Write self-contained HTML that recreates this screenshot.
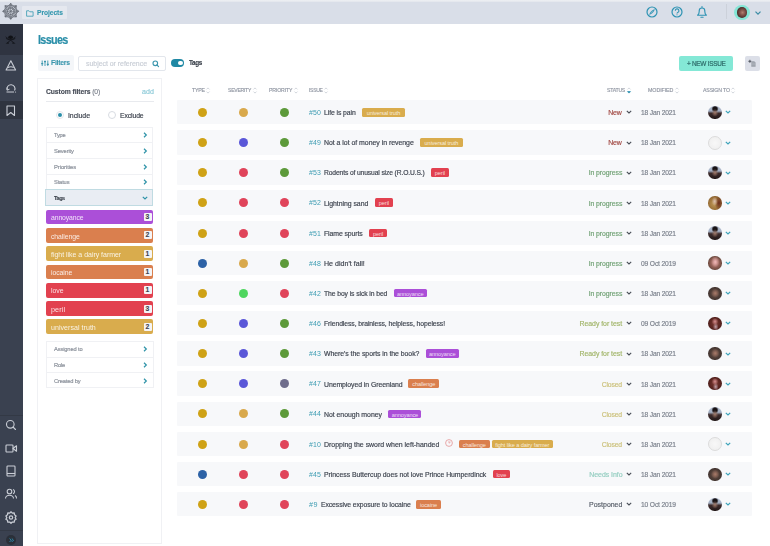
<!DOCTYPE html><html><head><meta charset="utf-8"><style>
*{margin:0;padding:0;box-sizing:border-box}
html,body{width:770px;height:546px;overflow:hidden;background:#fff;font-family:"Liberation Sans",sans-serif;}
.a{position:absolute}
.t{position:absolute;white-space:nowrap;line-height:1}
svg{position:absolute;overflow:visible}
.t{-webkit-text-stroke:0.18px currentColor}
.b{-webkit-text-stroke:0.12px currentColor}
body>div.wrap{position:absolute;left:0;top:0;width:770px;height:546px}
</style></head><body><div class="wrap">
<div class="a" style="left:0;top:0;width:770px;height:23.6px;background:#d9dee8"></div>
<div class="a" style="left:0;top:0;width:770px;height:1.6px;background:linear-gradient(#eef0f3,#e2e5ec)"></div>
<svg class="a" style="left:0px;top:0.7px" width="21" height="22" viewBox="0 0 21 22" ><path d="M10.70 2.40 L18.60 10.30 M16.29 4.71 L16.29 15.89 M18.60 10.30 L10.70 18.20 M16.29 15.89 L5.11 15.89 M10.70 18.20 L2.80 10.30 M5.11 15.89 L5.11 4.71 M2.80 10.30 L10.70 2.40 M5.11 4.71 L16.29 4.71 M10.70 2.40 L16.29 15.89 M16.29 4.71 L10.70 18.20 M18.60 10.30 L5.11 15.89 M16.29 15.89 L2.80 10.30 M10.70 18.20 L5.11 4.71 M5.11 15.89 L10.70 2.40 M2.80 10.30 L16.29 4.71 M5.11 4.71 L18.60 10.30 M10.70 2.40 L10.70 18.20 M16.29 4.71 L5.11 15.89 M18.60 10.30 L2.80 10.30 M16.29 15.89 L5.11 4.71 " fill="none" stroke="#666b75" stroke-width="0.7"/></svg>
<div class="a" style="left:22px;top:6px;width:45px;height:13px;background:#e5e8ef;border-radius:1px"></div>
<svg class="a" style="left:26px;top:9.5px" width="8" height="7" viewBox="0 0 8 7" ><path d="M0.6 0.8 h2.4 l0.9 1 h3.2 v4.4 h-6.5 z" fill="none" stroke="#4aa3b8" stroke-width="0.9"/></svg>
<div class="t b" style="left:37px;top:9.84px;font-size:6.8px;color:#3597ae;font-weight:700;transform:scaleX(0.9844);transform-origin:left center;letter-spacing:-0.060px;">Projects</div>
<svg class="a" style="left:646px;top:6px" width="12" height="12" viewBox="0 0 12 12" ><circle cx="6" cy="6" r="5" fill="none" stroke="#2e93b3" stroke-width="1.2"/><path d="M8.3 3.7 L6.6 6.6 L3.7 8.3 L5.4 5.4 Z" fill="#2e93b3" fill-opacity="0.35" stroke="#2e93b3" stroke-width="0.9"/></svg>
<svg class="a" style="left:671px;top:6px" width="12" height="12" viewBox="0 0 12 12" ><circle cx="6" cy="6" r="5" fill="none" stroke="#2e93b3" stroke-width="1.2"/><path d="M4.3 4.7 a1.8 1.8 0 1 1 2.4 1.7 q-0.7 0.3 -0.7 1.1" fill="none" stroke="#2e93b3" stroke-width="1.1"/><circle cx="6" cy="8.8" r="0.55" fill="#2e93b3"/></svg>
<svg class="a" style="left:696px;top:5px" width="12" height="14" viewBox="0 0 12 14" ><path d="M1.6 10.2 Q3.2 9 3.2 6.5 V5.8 A2.8 2.8 0 0 1 8.8 5.8 V6.5 Q8.8 9 10.4 10.2 Z M6 1.6 V3 M4.9 12.2 H7.1" fill="none" stroke="#2e93b3" stroke-width="1.15" stroke-linecap="round" stroke-linejoin="round"/></svg>
<div class="a" style="left:726px;top:4px;width:1px;height:15px;background:#ccd1da"></div>
<div class="a" style="left:734.2px;top:4.6px;width:15.8px;height:15.8px;border-radius:50%;background:#84e6d6;filter:blur(0.4px)"></div>
<div class="a" style="left:736.7px;top:7.1px;width:10.8px;height:10.8px;border-radius:50%;background:radial-gradient(circle at 55% 50%,#b08070 0,#80524a 35%,#4a2e2a 70%,#2a1c1a 100%)"></div>
<svg class="a" style="left:755.3px;top:11.2px" width="6" height="4" viewBox="0 0 6 4" ><path d="M0.5 0.6 L3 3.2 L5.5 0.6" fill="none" stroke="#3a8ca4" stroke-width="1.2"/></svg>
<div class="a" style="left:0;top:23.6px;width:22.5px;height:523px;background:#3a4150"></div>
<div class="a" style="left:0;top:23.6px;width:22.5px;height:31.5px;background:#2f3441"></div>
<div class="a" style="left:0;top:101px;width:22.5px;height:18px;background:#2f343f"></div>
<div class="a" style="left:0;top:415px;width:22.5px;height:1px;background:#333945"></div>
<div class="a" style="left:0;top:530px;width:22.5px;height:1px;background:#333945"></div>
<svg class="a" style="left:2px;top:30px" width="18" height="20" viewBox="0 0 18 20" ><ellipse cx="8.6" cy="7.3" rx="2.4" ry="1.8" fill="#101216"/><path d="M4.2 8.4 Q8.6 11.4 13.2 8.4" fill="none" stroke="#14171c" stroke-width="1.1"/><path d="M3.6 6.8 L12.3 13 M13.6 6.8 L4.9 13" stroke="#171a20" stroke-width="0.9"/><path d="M3.6 13.6 L6.6 11.8 L6.8 14 Z M13.6 13.6 L10.6 11.8 L10.4 14 Z" fill="#171a20"/></svg>
<svg class="a" style="left:5px;top:59px" width="12" height="12" viewBox="0 0 12 12" ><path d="M5.85 1.8 L10.6 11 H1.1 Z" fill="none" stroke="#c9cdd5" stroke-width="1.1" stroke-linejoin="round"/><path d="M3 8.4 Q5.85 7 8.7 8.4" fill="none" stroke="#c9cdd5" stroke-width="1.1"/></svg>
<svg class="a" style="left:5px;top:81.5px" width="12" height="12" viewBox="0 0 12 12" ><path d="M2.2 8 A4 4 0 1 1 9.5 8.6" fill="none" stroke="#c9cdd5" stroke-width="1.1"/><path d="M2 5.5 L2.2 8.2 L4.5 7.2" fill="none" stroke="#c9cdd5" stroke-width="1"/><path d="M1.5 10 H9" stroke="#c9cdd5" stroke-width="1"/><circle cx="10.5" cy="10" r="0.6" fill="#c9cdd5"/></svg>
<svg class="a" style="left:6px;top:105px" width="10" height="12" viewBox="0 0 10 12" ><path d="M1 1 H8.5 V10.5 L4.75 7.5 L1 10.5 Z" fill="none" stroke="#c9cdd5" stroke-width="1.1" stroke-linejoin="round"/></svg>
<svg class="a" style="left:5px;top:419px" width="12" height="12" viewBox="0 0 12 12" ><circle cx="5.3" cy="5.3" r="3.8" fill="none" stroke="#c9cdd5" stroke-width="1.1"/><path d="M8 8 L10.5 10.5" stroke="#c9cdd5" stroke-width="1.1" stroke-linecap="round"/></svg>
<svg class="a" style="left:5px;top:443px" width="13" height="11" viewBox="0 0 13 11" ><rect x="1" y="2" width="7" height="7" rx="0.8" fill="none" stroke="#c9cdd5" stroke-width="1.1"/><path d="M8 5.5 L11.5 2.8 V8.2 Z" fill="none" stroke="#c9cdd5" stroke-width="1.1" stroke-linejoin="round"/></svg>
<svg class="a" style="left:6px;top:465px" width="10" height="12" viewBox="0 0 10 12" ><rect x="1" y="1" width="8" height="10" rx="0.8" fill="none" stroke="#c9cdd5" stroke-width="1.1"/><path d="M1 8.5 H9" stroke="#c9cdd5" stroke-width="1.1"/></svg>
<svg class="a" style="left:4px;top:488px" width="14" height="12" viewBox="0 0 14 12" ><circle cx="5.5" cy="3.5" r="2.3" fill="none" stroke="#c9cdd5" stroke-width="1.1"/><path d="M1.5 10.5 a4 3.2 0 0 1 8 0" fill="none" stroke="#c9cdd5" stroke-width="1.1"/><path d="M9 1.5 a2.2 2.2 0 0 1 0 4.2 M11 7.5 a3 3 0 0 1 1.5 3" fill="none" stroke="#c9cdd5" stroke-width="1.1"/></svg>
<svg class="a" style="left:5px;top:510.5px" width="12" height="13" viewBox="0 0 12 13" ><path d="M6 0.8 L7.3 2.1 L9.2 1.9 L9.5 3.8 L11.1 4.9 L10.2 6.6 L11.1 8.2 L9.5 9.3 L9.2 11.2 L7.3 11 L6 12.3 L4.7 11 L2.8 11.2 L2.5 9.3 L0.9 8.2 L1.8 6.6 L0.9 4.9 L2.5 3.8 L2.8 1.9 L4.7 2.1 Z" fill="none" stroke="#c9cdd5" stroke-width="1.25" stroke-linejoin="round"/><circle cx="6" cy="6.5" r="1.7" fill="none" stroke="#c9cdd5" stroke-width="1.2"/></svg>
<div class="a" style="left:6px;top:535.3px;width:10px;height:10px;border-radius:50%;background:#2b3039"></div>
<svg class="a" style="left:8.6px;top:538.3px" width="6" height="5" viewBox="0 0 6 5" ><path d="M0.6 0.5 L2.3 2.2 L0.6 3.9 M2.8 0.5 L4.5 2.2 L2.8 3.9" fill="none" stroke="#2a8db0" stroke-width="1"/></svg>
<div class="t b" style="left:38px;top:33.74px;font-size:12px;color:#2b8fa9;font-weight:700;transform:scaleX(0.9006);transform-origin:left center;letter-spacing:-0.743px;-webkit-text-stroke:0.2px currentColor">Issues</div>
<div class="a" style="left:38px;top:55px;width:36px;height:16px;background:#f4f6f9;border-radius:2px"></div>
<svg class="a" style="left:41px;top:59.5px" width="8" height="6.5" viewBox="0 0 8 6.5" ><path d="M1.2 0.5 V6 M4 0.5 V6 M6.8 0.5 V6" stroke="#3b96ad" stroke-width="0.9"/><path d="M0.2 3.6 H2.2 M3 1.6 H5 M5.8 4.4 H7.8" stroke="#3b96ad" stroke-width="1.1"/></svg>
<div class="t b" style="left:50.8px;top:59.05px;font-size:7.5px;color:#3b96ad;font-weight:700;transform:scaleX(0.9186);transform-origin:left center;letter-spacing:-0.305px;">Filters</div>
<div class="a" style="left:78px;top:55.5px;width:87.5px;height:15px;border:1px solid #e2e6ec;border-radius:2px;background:#fff"></div>
<div class="t" style="left:86px;top:59.57px;font-size:7px;color:#c9ced6;font-weight:400;transform:scaleX(0.9929);transform-origin:left center;letter-spacing:-0.023px;">subject or reference</div>
<svg class="a" style="left:151.5px;top:59.5px" width="8" height="8" viewBox="0 0 8 8" ><circle cx="3.3" cy="3.3" r="2.3" fill="none" stroke="#3b96ad" stroke-width="1.1"/><path d="M5 5 L6.6 6.6" stroke="#3b96ad" stroke-width="1.1" stroke-linecap="round"/></svg>
<div class="a" style="left:170.6px;top:59.3px;width:13.8px;height:7.4px;border-radius:4px;background:#1f88a4"></div>
<div class="a" style="left:177.9px;top:60.7px;width:4.8px;height:4.8px;border-radius:50%;background:#fff"></div>
<div class="t b" style="left:189.2px;top:60.34px;font-size:6.8px;color:#333a44;font-weight:700;transform:scaleX(0.9305);transform-origin:left center;letter-spacing:-0.356px;">Tags</div>
<div class="a" style="left:679px;top:55.5px;width:54px;height:15px;background:#84e8d6;border-radius:2px"></div>
<div class="t" style="left:686.6px;top:61.36px;font-size:6.9px;color:#2f6d6b;font-weight:400;transform:scaleX(0.9326);transform-origin:left center;letter-spacing:-0.301px;-webkit-text-stroke:0.22px currentColor">+ NEW ISSUE</div>
<div class="a" style="left:744.7px;top:55.5px;width:15px;height:15px;background:#dcdfe8;border-radius:2px"></div>
<svg class="a" style="left:747px;top:58px" width="10" height="10" viewBox="0 0 10 10" ><path d="M1.4 3.3 H4.4 M2.9 1.8 V4.8" stroke="#50565f" stroke-width="1"/><path d="M4.3 3.2 H7.2 L8.6 4.6 V8.7 H4.3 Z" fill="#9a9fa8"/><path d="M4.3 5.2 H8.6 M4.3 6.8 H8.6" stroke="#c5c9d2" stroke-width="0.45"/></svg>
<div class="a" style="left:37.3px;top:78.4px;width:124.5px;height:466px;border:1px solid #f0f1f4;background:#fff"></div>
<div class="t b" style="left:46px;top:87.57px;font-size:7px;color:#444a55;font-weight:700;transform:scaleX(0.9711);transform-origin:left center;letter-spacing:-0.098px;">Custom filters <span style="font-weight:400;color:#777d88">(0)</span></div>
<div class="t" style="left:141.8px;top:87.57px;font-size:7px;color:#8fcbd9;font-weight:400;transform:scaleX(1.0133);transform-origin:left center;letter-spacing:0.078px;">add</div>
<div class="a" style="left:46px;top:100.5px;width:107.6px;height:1px;background:#e8eaee"></div>
<div class="a" style="left:56px;top:111.2px;width:8px;height:8px;border-radius:50%;border:1px solid #e3e6ea;background:#fff"></div>
<div class="a" style="left:58px;top:113.2px;width:4px;height:4px;border-radius:50%;background:#2b8fa9"></div>
<div class="t" style="left:67.8px;top:112.07px;font-size:7px;color:#3d434e;font-weight:400;transform:scaleX(0.9871);transform-origin:left center;letter-spacing:-0.048px;">Include</div>
<div class="a" style="left:107.8px;top:111.2px;width:8px;height:8px;border-radius:50%;border:1px solid #d8dce2;background:#fff"></div>
<div class="t" style="left:119.6px;top:112.07px;font-size:7px;color:#3d434e;font-weight:400;transform:scaleX(0.9734);transform-origin:left center;letter-spacing:-0.110px;">Exclude</div>
<div class="a" style="left:45.8px;top:127.3px;width:107.5px;height:62.5px;border:1px solid #f0f1f4"></div>
<div class="t" style="left:54px;top:132.07px;font-size:6.0px;color:#8a909a;font-weight:400;transform:scaleX(0.9481);transform-origin:left center;letter-spacing:-0.225px;">Type</div>
<svg class="a" style="left:143.4px;top:131.95px" width="5" height="6" viewBox="0 0 5 6" ><path d="M1 0.8 L3.3 3 L1 5.2" fill="none" stroke="#2e93a8" stroke-width="1.2"/></svg>
<div class="a" style="left:45.8px;top:142.1px;width:107.5px;height:1px;background:#f0f1f4"></div>
<div class="t" style="left:54px;top:147.72px;font-size:6.0px;color:#8a909a;font-weight:400;transform:scaleX(0.9603);transform-origin:left center;letter-spacing:-0.123px;">Severity</div>
<svg class="a" style="left:143.4px;top:147.6px" width="5" height="6" viewBox="0 0 5 6" ><path d="M1 0.8 L3.3 3 L1 5.2" fill="none" stroke="#2e93a8" stroke-width="1.2"/></svg>
<div class="a" style="left:45.8px;top:158.1px;width:107.5px;height:1px;background:#f0f1f4"></div>
<div class="t" style="left:54px;top:163.62px;font-size:6.0px;color:#8a909a;font-weight:400;transform:scaleX(0.9730);transform-origin:left center;letter-spacing:-0.070px;">Priorities</div>
<svg class="a" style="left:143.4px;top:163.5px" width="5" height="6" viewBox="0 0 5 6" ><path d="M1 0.8 L3.3 3 L1 5.2" fill="none" stroke="#2e93a8" stroke-width="1.2"/></svg>
<div class="a" style="left:45.8px;top:173.9px;width:107.5px;height:1px;background:#f0f1f4"></div>
<div class="t" style="left:54px;top:179.07px;font-size:6.0px;color:#8a909a;font-weight:400;transform:scaleX(0.9544);transform-origin:left center;letter-spacing:-0.155px;">Status</div>
<svg class="a" style="left:143.4px;top:178.95px" width="5" height="6" viewBox="0 0 5 6" ><path d="M1 0.8 L3.3 3 L1 5.2" fill="none" stroke="#2e93a8" stroke-width="1.2"/></svg>
<div class="a" style="left:45.1px;top:189.3px;width:108.4px;height:16.8px;background:#e9edf3;border:1px solid #c0dbe2"></div>
<div class="t b" style="left:54px;top:195.05px;font-size:6.2px;color:#3a404a;font-weight:700;transform:scaleX(0.8949);transform-origin:left center;letter-spacing:-0.490px;">Tags</div>
<svg class="a" style="left:142.2px;top:195.9px" width="6" height="4" viewBox="0 0 6 4" ><path d="M0.8 0.8 L3 3 L5.2 0.8" fill="none" stroke="#2e93a8" stroke-width="1.2"/></svg>
<div class="a" style="left:45.9px;top:209.60px;width:107.5px;height:14.9px;background:#ab4fd8;border-radius:2px"></div>
<div class="t" style="left:51.2px;top:214.27px;font-size:7px;color:rgba(255,255,255,.85);font-weight:400;transform:scaleX(0.9754);transform-origin:left center;letter-spacing:-0.105px;-webkit-text-stroke:0">annoyance</div>
<div class="a" style="left:143.8px;top:213.10px;width:8px;height:8px;background:#f4f4f6;border-radius:1px"></div>
<div class="t b" style="left:145.6px;top:214.14px;font-size:6.8px;color:#3e4450;font-weight:700;letter-spacing:0px;">3</div>
<div class="a" style="left:45.9px;top:227.90px;width:107.5px;height:14.9px;background:#da7f4e;border-radius:2px"></div>
<div class="t" style="left:51.2px;top:232.57px;font-size:7px;color:rgba(255,255,255,.85);font-weight:400;transform:scaleX(0.9786);transform-origin:left center;letter-spacing:-0.080px;-webkit-text-stroke:0">challenge</div>
<div class="a" style="left:143.8px;top:231.40px;width:8px;height:8px;background:#f4f4f6;border-radius:1px"></div>
<div class="t b" style="left:145.6px;top:232.44px;font-size:6.8px;color:#3e4450;font-weight:700;letter-spacing:0px;">2</div>
<div class="a" style="left:45.9px;top:246.20px;width:107.5px;height:14.9px;background:#d9ac4d;border-radius:2px"></div>
<div class="t" style="left:51.2px;top:250.87px;font-size:7px;color:rgba(255,255,255,.85);font-weight:400;transform:scaleX(0.9957);transform-origin:left center;letter-spacing:-0.013px;-webkit-text-stroke:0">fight like a dairy farmer</div>
<div class="a" style="left:143.8px;top:249.70px;width:8px;height:8px;background:#f4f4f6;border-radius:1px"></div>
<div class="t b" style="left:145.6px;top:250.74px;font-size:6.8px;color:#3e4450;font-weight:700;letter-spacing:0px;">1</div>
<div class="a" style="left:45.9px;top:264.50px;width:107.5px;height:14.9px;background:#da7f4e;border-radius:2px"></div>
<div class="t" style="left:51.2px;top:269.17px;font-size:7px;color:rgba(255,255,255,.85);font-weight:400;transform:scaleX(0.9798);transform-origin:left center;letter-spacing:-0.075px;-webkit-text-stroke:0">iocaine</div>
<div class="a" style="left:143.8px;top:268.00px;width:8px;height:8px;background:#f4f4f6;border-radius:1px"></div>
<div class="t b" style="left:145.6px;top:269.04px;font-size:6.8px;color:#3e4450;font-weight:700;letter-spacing:0px;">1</div>
<div class="a" style="left:45.9px;top:282.80px;width:107.5px;height:14.9px;background:#e2414f;border-radius:2px"></div>
<div class="t" style="left:51.2px;top:287.47px;font-size:7px;color:rgba(255,255,255,.85);font-weight:400;transform:scaleX(0.9865);transform-origin:left center;letter-spacing:-0.058px;-webkit-text-stroke:0">love</div>
<div class="a" style="left:143.8px;top:286.30px;width:8px;height:8px;background:#f4f4f6;border-radius:1px"></div>
<div class="t b" style="left:145.6px;top:287.34px;font-size:6.8px;color:#3e4450;font-weight:700;letter-spacing:0px;">1</div>
<div class="a" style="left:45.9px;top:301.10px;width:107.5px;height:14.9px;background:#e2414f;border-radius:2px"></div>
<div class="t" style="left:51.2px;top:305.77px;font-size:7px;color:rgba(255,255,255,.85);font-weight:400;transform:scaleX(1.0285);transform-origin:left center;letter-spacing:0.094px;-webkit-text-stroke:0">peril</div>
<div class="a" style="left:143.8px;top:304.60px;width:8px;height:8px;background:#f4f4f6;border-radius:1px"></div>
<div class="t b" style="left:145.6px;top:305.64px;font-size:6.8px;color:#3e4450;font-weight:700;letter-spacing:0px;">3</div>
<div class="a" style="left:45.9px;top:319.40px;width:107.5px;height:14.9px;background:#d9ac4d;border-radius:2px"></div>
<div class="t" style="left:51.2px;top:324.07px;font-size:7px;color:rgba(255,255,255,.85);font-weight:400;transform:scaleX(1.0094);transform-origin:left center;letter-spacing:0.030px;-webkit-text-stroke:0">universal truth</div>
<div class="a" style="left:143.8px;top:322.90px;width:8px;height:8px;background:#f4f4f6;border-radius:1px"></div>
<div class="t b" style="left:145.6px;top:323.94px;font-size:6.8px;color:#3e4450;font-weight:700;letter-spacing:0px;">2</div>
<div class="a" style="left:45.6px;top:341.3px;width:108.2px;height:47.2px;border:1px solid #f0f1f4"></div>
<div class="t" style="left:54px;top:346.32px;font-size:6.0px;color:#8a909a;font-weight:400;transform:scaleX(0.9550);transform-origin:left center;letter-spacing:-0.141px;">Assigned to</div>
<svg class="a" style="left:143.4px;top:346.2px" width="5" height="6" viewBox="0 0 5 6" ><path d="M1 0.8 L3.3 3 L1 5.2" fill="none" stroke="#2e93a8" stroke-width="1.2"/></svg>
<div class="a" style="left:45.6px;top:356.53px;width:108.2px;height:1px;background:#f0f1f4"></div>
<div class="t" style="left:54px;top:362.05px;font-size:6.0px;color:#8a909a;font-weight:400;transform:scaleX(0.9483);transform-origin:left center;letter-spacing:-0.213px;">Role</div>
<svg class="a" style="left:143.4px;top:361.93px" width="5" height="6" viewBox="0 0 5 6" ><path d="M1 0.8 L3.3 3 L1 5.2" fill="none" stroke="#2e93a8" stroke-width="1.2"/></svg>
<div class="a" style="left:45.6px;top:372.26px;width:108.2px;height:1px;background:#f0f1f4"></div>
<div class="t" style="left:54px;top:377.78px;font-size:6.0px;color:#8a909a;font-weight:400;transform:scaleX(0.9536);transform-origin:left center;letter-spacing:-0.151px;">Created by</div>
<svg class="a" style="left:143.4px;top:377.65999999999997px" width="5" height="6" viewBox="0 0 5 6" ><path d="M1 0.8 L3.3 3 L1 5.2" fill="none" stroke="#2e93a8" stroke-width="1.2"/></svg>
<div class="t" style="left:192px;top:87.54px;font-size:5.5px;color:#8e94a0;font-weight:400;transform:scaleX(0.9546);transform-origin:left center;letter-spacing:-0.217px;-webkit-text-stroke:0.14px currentColor">TYPE</div>
<svg class="a" style="left:206.4px;top:86.9px" width="4" height="7" viewBox="0 0 4 7" ><path d="M0.5 2.4 L2 0.9 L3.5 2.4" fill="none" stroke="#c3c8d0" stroke-width="0.75"/><path d="M0.5 4.6 L2 6.1 L3.5 4.6" fill="none" stroke="#c3c8d0" stroke-width="0.75"/></svg>
<div class="t" style="left:227.6px;top:87.54px;font-size:5.5px;color:#8e94a0;font-weight:400;transform:scaleX(0.9255);transform-origin:left center;letter-spacing:-0.290px;-webkit-text-stroke:0.14px currentColor">SEVERITY</div>
<svg class="a" style="left:252.8px;top:86.9px" width="4" height="7" viewBox="0 0 4 7" ><path d="M0.5 2.4 L2 0.9 L3.5 2.4" fill="none" stroke="#c3c8d0" stroke-width="0.75"/><path d="M0.5 4.6 L2 6.1 L3.5 4.6" fill="none" stroke="#c3c8d0" stroke-width="0.75"/></svg>
<div class="t" style="left:268.7px;top:87.54px;font-size:5.5px;color:#8e94a0;font-weight:400;transform:scaleX(0.9490);transform-origin:left center;letter-spacing:-0.189px;-webkit-text-stroke:0.14px currentColor">PRIORITY</div>
<svg class="a" style="left:293.7px;top:86.9px" width="4" height="7" viewBox="0 0 4 7" ><path d="M0.5 2.4 L2 0.9 L3.5 2.4" fill="none" stroke="#c3c8d0" stroke-width="0.75"/><path d="M0.5 4.6 L2 6.1 L3.5 4.6" fill="none" stroke="#c3c8d0" stroke-width="0.75"/></svg>
<div class="t" style="left:308.6px;top:87.54px;font-size:5.5px;color:#8e94a0;font-weight:400;transform:scaleX(0.9174);transform-origin:left center;letter-spacing:-0.341px;-webkit-text-stroke:0.14px currentColor">ISSUE</div>
<svg class="a" style="left:324px;top:86.9px" width="4" height="7" viewBox="0 0 4 7" ><path d="M0.5 2.4 L2 0.9 L3.5 2.4" fill="none" stroke="#c3c8d0" stroke-width="0.75"/><path d="M0.5 4.6 L2 6.1 L3.5 4.6" fill="none" stroke="#c3c8d0" stroke-width="0.75"/></svg>
<div class="t" style="left:607px;top:87.54px;font-size:5.5px;color:#8e94a0;font-weight:400;transform:scaleX(0.9359);transform-origin:left center;letter-spacing:-0.268px;-webkit-text-stroke:0.14px currentColor">STATUS</div>
<svg class="a" style="left:627px;top:86.9px" width="4" height="7" viewBox="0 0 4 7" ><path d="M0.5 2.4 L2 0.9 L3.5 2.4" fill="none" stroke="#c3c8d0" stroke-width="0.75"/><path d="M0.5 4.6 L2 6.1 L3.5 4.6 Z" fill="#2a8fb0" stroke="#2a8fb0" stroke-width="0.75"/></svg>
<div class="t" style="left:648px;top:87.54px;font-size:5.5px;color:#8e94a0;font-weight:400;transform:scaleX(0.9719);transform-origin:left center;letter-spacing:-0.108px;-webkit-text-stroke:0.14px currentColor">MODIFIED</div>
<svg class="a" style="left:675px;top:86.9px" width="4" height="7" viewBox="0 0 4 7" ><path d="M0.5 2.4 L2 0.9 L3.5 2.4" fill="none" stroke="#c3c8d0" stroke-width="0.75"/><path d="M0.5 4.6 L2 6.1 L3.5 4.6" fill="none" stroke="#c3c8d0" stroke-width="0.75"/></svg>
<div class="t" style="left:702.5px;top:87.54px;font-size:5.5px;color:#8e94a0;font-weight:400;transform:scaleX(0.9524);transform-origin:left center;letter-spacing:-0.177px;-webkit-text-stroke:0.14px currentColor">ASSIGN TO</div>
<svg class="a" style="left:731px;top:86.9px" width="4" height="7" viewBox="0 0 4 7" ><path d="M0.5 2.4 L2 0.9 L3.5 2.4" fill="none" stroke="#c3c8d0" stroke-width="0.75"/><path d="M0.5 4.6 L2 6.1 L3.5 4.6" fill="none" stroke="#c3c8d0" stroke-width="0.75"/></svg>
<div class="a" style="left:176.7px;top:100.00px;width:575px;height:24.4px;background:#f7f8fa;border-radius:1px"></div>
<div class="a" style="left:197.80px;top:107.90px;width:9px;height:9px;border-radius:50%;background:#cfa216"></div>
<div class="a" style="left:238.80px;top:107.90px;width:9px;height:9px;border-radius:50%;background:#d9a94c"></div>
<div class="a" style="left:279.80px;top:107.90px;width:9px;height:9px;border-radius:50%;background:#5d9a3a"></div>
<div class="t" style="left:308.6px;top:109.94px;font-size:6.8px;color:#3f9db3;font-weight:400;transform:scaleX(1.0242);transform-origin:left center;letter-spacing:0.137px;-webkit-text-stroke:0px">#50</div>
<div class="t" style="left:324.4px;top:109.17px;font-size:7px;color:#3f4550;font-weight:400;transform:scaleX(0.9748);transform-origin:left center;letter-spacing:-0.077px;">Life is pain</div>
<div class="t" style="left:641.2px;top:109.17px;font-size:7px;color:#7c828d;font-weight:400;transform:scaleX(0.9529);transform-origin:left center;letter-spacing:-0.182px;">18 Jan 2021</div>
<div class="t" style="right:147.79999999999995px;top:109.17px;font-size:7px;color:#a24a44;font-weight:400;transform:scaleX(0.9887);transform-origin:right center;letter-spacing:-0.079px;">New</div>
<svg class="a" style="left:626px;top:110.4px" width="6" height="4" viewBox="0 0 6 4" ><path d="M0.8 0.8 L3 3 L5.2 0.8" fill="none" stroke="#4a4f58" stroke-width="1.1"/></svg>
<div class="a" style="left:708.3px;top:105.70px;width:13.4px;height:13.4px;border-radius:50%;background:radial-gradient(ellipse 24% 30% at 50% 52%,#a07a6a 0,rgba(160,120,100,0) 100%),radial-gradient(ellipse 26% 26% at 50% 22%,#181214 0,#181214 55%,rgba(24,18,20,0) 100%),linear-gradient(180deg,#b8c2d4 0%,#a2aec2 38%,#3e2c2c 56%,#221818 100%)"></div>
<svg class="a" style="left:725.4px;top:110.4px" width="6" height="4" viewBox="0 0 6 4" ><path d="M0.8 0.8 L3 3 L5.2 0.8" fill="none" stroke="#3ea3ba" stroke-width="1.2"/></svg>
<div class="a" style="left:176.7px;top:130.15px;width:575px;height:24.4px;background:#f7f8fa;border-radius:1px"></div>
<div class="a" style="left:197.80px;top:138.05px;width:9px;height:9px;border-radius:50%;background:#cfa216"></div>
<div class="a" style="left:238.80px;top:138.05px;width:9px;height:9px;border-radius:50%;background:#5a57d8"></div>
<div class="a" style="left:279.80px;top:138.05px;width:9px;height:9px;border-radius:50%;background:#5d9a3a"></div>
<div class="t" style="left:308.6px;top:140.09px;font-size:6.8px;color:#3f9db3;font-weight:400;transform:scaleX(1.0242);transform-origin:left center;letter-spacing:0.137px;-webkit-text-stroke:0px">#49</div>
<div class="t" style="left:324.4px;top:139.32px;font-size:7px;color:#3f4550;font-weight:400;transform:scaleX(0.9909);transform-origin:left center;letter-spacing:-0.030px;">Not a lot of money in revenge</div>
<div class="t" style="left:641.2px;top:139.32px;font-size:7px;color:#7c828d;font-weight:400;transform:scaleX(0.9529);transform-origin:left center;letter-spacing:-0.182px;">18 Jan 2021</div>
<div class="t" style="right:147.79999999999995px;top:139.32px;font-size:7px;color:#a24a44;font-weight:400;transform:scaleX(0.9887);transform-origin:right center;letter-spacing:-0.079px;">New</div>
<svg class="a" style="left:626px;top:140.55px" width="6" height="4" viewBox="0 0 6 4" ><path d="M0.8 0.8 L3 3 L5.2 0.8" fill="none" stroke="#4a4f58" stroke-width="1.1"/></svg>
<div class="a" style="left:708px;top:135.55px;width:14px;height:14px;border-radius:50%;border:1px solid #dcdcdc;background:radial-gradient(circle,#f8f8f8 0,#ededed 100%)"></div>
<svg class="a" style="left:725.4px;top:140.55px" width="6" height="4" viewBox="0 0 6 4" ><path d="M0.8 0.8 L3 3 L5.2 0.8" fill="none" stroke="#3ea3ba" stroke-width="1.2"/></svg>
<div class="a" style="left:176.7px;top:160.30px;width:575px;height:24.4px;background:#f7f8fa;border-radius:1px"></div>
<div class="a" style="left:197.80px;top:168.20px;width:9px;height:9px;border-radius:50%;background:#cfa216"></div>
<div class="a" style="left:238.80px;top:168.20px;width:9px;height:9px;border-radius:50%;background:#e0445a"></div>
<div class="a" style="left:279.80px;top:168.20px;width:9px;height:9px;border-radius:50%;background:#5d9a3a"></div>
<div class="t" style="left:308.6px;top:170.24px;font-size:6.8px;color:#3f9db3;font-weight:400;transform:scaleX(1.0242);transform-origin:left center;letter-spacing:0.137px;-webkit-text-stroke:0px">#53</div>
<div class="t" style="left:324.4px;top:169.47px;font-size:7px;color:#3f4550;font-weight:400;transform:scaleX(0.9602);transform-origin:left center;letter-spacing:-0.132px;">Rodents of unusual size (R.O.U.S.)</div>
<div class="t" style="left:641.2px;top:169.47px;font-size:7px;color:#7c828d;font-weight:400;transform:scaleX(0.9529);transform-origin:left center;letter-spacing:-0.182px;">18 Jan 2021</div>
<div class="t" style="right:147.79999999999995px;top:169.47px;font-size:7px;color:#72a276;font-weight:400;transform:scaleX(0.9808);transform-origin:right center;letter-spacing:-0.067px;">In progress</div>
<svg class="a" style="left:626px;top:170.70000000000002px" width="6" height="4" viewBox="0 0 6 4" ><path d="M0.8 0.8 L3 3 L5.2 0.8" fill="none" stroke="#4a4f58" stroke-width="1.1"/></svg>
<div class="a" style="left:708.3px;top:166.00px;width:13.4px;height:13.4px;border-radius:50%;background:radial-gradient(ellipse 24% 30% at 50% 52%,#a07a6a 0,rgba(160,120,100,0) 100%),radial-gradient(ellipse 26% 26% at 50% 22%,#181214 0,#181214 55%,rgba(24,18,20,0) 100%),linear-gradient(180deg,#b8c2d4 0%,#a2aec2 38%,#3e2c2c 56%,#221818 100%)"></div>
<svg class="a" style="left:725.4px;top:170.70000000000002px" width="6" height="4" viewBox="0 0 6 4" ><path d="M0.8 0.8 L3 3 L5.2 0.8" fill="none" stroke="#3ea3ba" stroke-width="1.2"/></svg>
<div class="a" style="left:176.7px;top:190.45px;width:575px;height:24.4px;background:#f7f8fa;border-radius:1px"></div>
<div class="a" style="left:197.80px;top:198.35px;width:9px;height:9px;border-radius:50%;background:#cfa216"></div>
<div class="a" style="left:238.80px;top:198.35px;width:9px;height:9px;border-radius:50%;background:#e0445a"></div>
<div class="a" style="left:279.80px;top:198.35px;width:9px;height:9px;border-radius:50%;background:#e0445a"></div>
<div class="t" style="left:308.6px;top:200.39px;font-size:6.8px;color:#3f9db3;font-weight:400;transform:scaleX(1.0242);transform-origin:left center;letter-spacing:0.137px;-webkit-text-stroke:0px">#52</div>
<div class="t" style="left:324.4px;top:199.62px;font-size:7px;color:#3f4550;font-weight:400;transform:scaleX(0.9862);transform-origin:left center;letter-spacing:-0.048px;">Lightning sand</div>
<div class="t" style="left:641.2px;top:199.62px;font-size:7px;color:#7c828d;font-weight:400;transform:scaleX(0.9529);transform-origin:left center;letter-spacing:-0.182px;">18 Jan 2021</div>
<div class="t" style="right:147.79999999999995px;top:199.62px;font-size:7px;color:#72a276;font-weight:400;transform:scaleX(0.9808);transform-origin:right center;letter-spacing:-0.067px;">In progress</div>
<svg class="a" style="left:626px;top:200.85px" width="6" height="4" viewBox="0 0 6 4" ><path d="M0.8 0.8 L3 3 L5.2 0.8" fill="none" stroke="#4a4f58" stroke-width="1.1"/></svg>
<div class="a" style="left:708.3px;top:196.15px;width:13.4px;height:13.4px;border-radius:50%;background:radial-gradient(ellipse 22% 32% at 48% 38%,#dcc0b0 0,rgba(220,190,170,0) 100%),radial-gradient(ellipse 30% 50% at 78% 50%,#6a2a1a 0,rgba(100,40,20,0) 100%),radial-gradient(circle at 45% 55%,#c09a58 0,#9a7038 55%,#6a4a20 100%)"></div>
<svg class="a" style="left:725.4px;top:200.85px" width="6" height="4" viewBox="0 0 6 4" ><path d="M0.8 0.8 L3 3 L5.2 0.8" fill="none" stroke="#3ea3ba" stroke-width="1.2"/></svg>
<div class="a" style="left:176.7px;top:220.60px;width:575px;height:24.4px;background:#f7f8fa;border-radius:1px"></div>
<div class="a" style="left:197.80px;top:228.50px;width:9px;height:9px;border-radius:50%;background:#cfa216"></div>
<div class="a" style="left:238.80px;top:228.50px;width:9px;height:9px;border-radius:50%;background:#e0445a"></div>
<div class="a" style="left:279.80px;top:228.50px;width:9px;height:9px;border-radius:50%;background:#e0445a"></div>
<div class="t" style="left:308.6px;top:230.54px;font-size:6.8px;color:#3f9db3;font-weight:400;transform:scaleX(1.0242);transform-origin:left center;letter-spacing:0.137px;-webkit-text-stroke:0px">#51</div>
<div class="t" style="left:324.4px;top:229.77px;font-size:7px;color:#3f4550;font-weight:400;transform:scaleX(0.9792);transform-origin:left center;letter-spacing:-0.077px;">Flame spurts</div>
<div class="t" style="left:641.2px;top:229.77px;font-size:7px;color:#7c828d;font-weight:400;transform:scaleX(0.9529);transform-origin:left center;letter-spacing:-0.182px;">18 Jan 2021</div>
<div class="t" style="right:147.79999999999995px;top:229.77px;font-size:7px;color:#72a276;font-weight:400;transform:scaleX(0.9808);transform-origin:right center;letter-spacing:-0.067px;">In progress</div>
<svg class="a" style="left:626px;top:231.0px" width="6" height="4" viewBox="0 0 6 4" ><path d="M0.8 0.8 L3 3 L5.2 0.8" fill="none" stroke="#4a4f58" stroke-width="1.1"/></svg>
<div class="a" style="left:708.3px;top:226.30px;width:13.4px;height:13.4px;border-radius:50%;background:radial-gradient(ellipse 24% 30% at 50% 52%,#a07a6a 0,rgba(160,120,100,0) 100%),radial-gradient(ellipse 26% 26% at 50% 22%,#181214 0,#181214 55%,rgba(24,18,20,0) 100%),linear-gradient(180deg,#b8c2d4 0%,#a2aec2 38%,#3e2c2c 56%,#221818 100%)"></div>
<svg class="a" style="left:725.4px;top:231.0px" width="6" height="4" viewBox="0 0 6 4" ><path d="M0.8 0.8 L3 3 L5.2 0.8" fill="none" stroke="#3ea3ba" stroke-width="1.2"/></svg>
<div class="a" style="left:176.7px;top:250.75px;width:575px;height:24.4px;background:#f7f8fa;border-radius:1px"></div>
<div class="a" style="left:197.80px;top:258.65px;width:9px;height:9px;border-radius:50%;background:#2d62a6"></div>
<div class="a" style="left:238.80px;top:258.65px;width:9px;height:9px;border-radius:50%;background:#d9a94c"></div>
<div class="a" style="left:279.80px;top:258.65px;width:9px;height:9px;border-radius:50%;background:#5d9a3a"></div>
<div class="t" style="left:308.6px;top:260.69px;font-size:6.8px;color:#3f9db3;font-weight:400;transform:scaleX(1.0242);transform-origin:left center;letter-spacing:0.137px;-webkit-text-stroke:0px">#48</div>
<div class="t" style="left:324.4px;top:259.92px;font-size:7px;color:#3f4550;font-weight:400;transform:scaleX(1.0068);transform-origin:left center;letter-spacing:0.020px;">He didn&#39;t fall!</div>
<div class="t" style="left:641.2px;top:259.92px;font-size:7px;color:#7c828d;font-weight:400;transform:scaleX(0.9579);transform-origin:left center;letter-spacing:-0.160px;">09 Oct 2019</div>
<div class="t" style="right:147.79999999999995px;top:259.92px;font-size:7px;color:#72a276;font-weight:400;transform:scaleX(0.9808);transform-origin:right center;letter-spacing:-0.067px;">In progress</div>
<svg class="a" style="left:626px;top:261.15px" width="6" height="4" viewBox="0 0 6 4" ><path d="M0.8 0.8 L3 3 L5.2 0.8" fill="none" stroke="#4a4f58" stroke-width="1.1"/></svg>
<div class="a" style="left:708.3px;top:256.45px;width:13.4px;height:13.4px;border-radius:50%;background:radial-gradient(ellipse 30% 40% at 52% 42%,#f0b8b8 0,rgba(230,160,160,0) 100%),radial-gradient(circle at 50% 50%,#c08078 0,#8a5a50 50%,#3e3428 100%)"></div>
<svg class="a" style="left:725.4px;top:261.15px" width="6" height="4" viewBox="0 0 6 4" ><path d="M0.8 0.8 L3 3 L5.2 0.8" fill="none" stroke="#3ea3ba" stroke-width="1.2"/></svg>
<div class="a" style="left:176.7px;top:280.90px;width:575px;height:24.4px;background:#f7f8fa;border-radius:1px"></div>
<div class="a" style="left:197.80px;top:288.80px;width:9px;height:9px;border-radius:50%;background:#cfa216"></div>
<div class="a" style="left:238.80px;top:288.80px;width:9px;height:9px;border-radius:50%;background:#4fd65f"></div>
<div class="a" style="left:279.80px;top:288.80px;width:9px;height:9px;border-radius:50%;background:#e0445a"></div>
<div class="t" style="left:308.6px;top:290.84px;font-size:6.8px;color:#3f9db3;font-weight:400;transform:scaleX(1.0242);transform-origin:left center;letter-spacing:0.137px;-webkit-text-stroke:0px">#42</div>
<div class="t" style="left:324.4px;top:290.07px;font-size:7px;color:#3f4550;font-weight:400;transform:scaleX(0.9705);transform-origin:left center;letter-spacing:-0.095px;">The boy is sick in bed</div>
<div class="t" style="left:641.2px;top:290.07px;font-size:7px;color:#7c828d;font-weight:400;transform:scaleX(0.9529);transform-origin:left center;letter-spacing:-0.182px;">18 Jan 2021</div>
<div class="t" style="right:147.79999999999995px;top:290.07px;font-size:7px;color:#72a276;font-weight:400;transform:scaleX(0.9808);transform-origin:right center;letter-spacing:-0.067px;">In progress</div>
<svg class="a" style="left:626px;top:291.29999999999995px" width="6" height="4" viewBox="0 0 6 4" ><path d="M0.8 0.8 L3 3 L5.2 0.8" fill="none" stroke="#4a4f58" stroke-width="1.1"/></svg>
<div class="a" style="left:708.3px;top:286.60px;width:13.4px;height:13.4px;border-radius:50%;background:radial-gradient(ellipse 30% 35% at 52% 48%,#a87a68 0,rgba(160,110,90,0) 100%),radial-gradient(circle at 50% 50%,#6a5048 0,#4a3a34 55%,#3a3434 100%)"></div>
<svg class="a" style="left:725.4px;top:291.29999999999995px" width="6" height="4" viewBox="0 0 6 4" ><path d="M0.8 0.8 L3 3 L5.2 0.8" fill="none" stroke="#3ea3ba" stroke-width="1.2"/></svg>
<div class="a" style="left:176.7px;top:311.05px;width:575px;height:24.4px;background:#f7f8fa;border-radius:1px"></div>
<div class="a" style="left:197.80px;top:318.95px;width:9px;height:9px;border-radius:50%;background:#cfa216"></div>
<div class="a" style="left:238.80px;top:318.95px;width:9px;height:9px;border-radius:50%;background:#5a57d8"></div>
<div class="a" style="left:279.80px;top:318.95px;width:9px;height:9px;border-radius:50%;background:#5d9a3a"></div>
<div class="t" style="left:308.6px;top:320.99px;font-size:6.8px;color:#3f9db3;font-weight:400;transform:scaleX(1.0242);transform-origin:left center;letter-spacing:0.137px;-webkit-text-stroke:0px">#46</div>
<div class="t" style="left:324.4px;top:320.22px;font-size:7px;color:#3f4550;font-weight:400;transform:scaleX(0.9741);transform-origin:left center;letter-spacing:-0.081px;">Friendless, brainless, helpless, hopeless!</div>
<div class="t" style="left:641.2px;top:320.22px;font-size:7px;color:#7c828d;font-weight:400;transform:scaleX(0.9579);transform-origin:left center;letter-spacing:-0.160px;">09 Oct 2019</div>
<div class="t" style="right:147.79999999999995px;top:320.22px;font-size:7px;color:#a2b56a;font-weight:400;transform:scaleX(0.9887);transform-origin:right center;letter-spacing:-0.038px;">Ready for test</div>
<svg class="a" style="left:626px;top:321.44999999999993px" width="6" height="4" viewBox="0 0 6 4" ><path d="M0.8 0.8 L3 3 L5.2 0.8" fill="none" stroke="#4a4f58" stroke-width="1.1"/></svg>
<div class="a" style="left:708.3px;top:316.75px;width:13.4px;height:13.4px;border-radius:50%;background:radial-gradient(ellipse 24% 28% at 50% 35%,#d89090 0,rgba(210,130,130,0) 100%),radial-gradient(ellipse 20% 30% at 55% 75%,#c0a0a8 0,rgba(190,160,170,0) 100%),radial-gradient(circle at 50% 50%,#7a3a34 0,#5a2420 55%,#3a1a1a 100%)"></div>
<svg class="a" style="left:725.4px;top:321.44999999999993px" width="6" height="4" viewBox="0 0 6 4" ><path d="M0.8 0.8 L3 3 L5.2 0.8" fill="none" stroke="#3ea3ba" stroke-width="1.2"/></svg>
<div class="a" style="left:176.7px;top:341.20px;width:575px;height:24.4px;background:#f7f8fa;border-radius:1px"></div>
<div class="a" style="left:197.80px;top:349.10px;width:9px;height:9px;border-radius:50%;background:#cfa216"></div>
<div class="a" style="left:238.80px;top:349.10px;width:9px;height:9px;border-radius:50%;background:#5a57d8"></div>
<div class="a" style="left:279.80px;top:349.10px;width:9px;height:9px;border-radius:50%;background:#5d9a3a"></div>
<div class="t" style="left:308.6px;top:351.14px;font-size:6.8px;color:#3f9db3;font-weight:400;transform:scaleX(1.0242);transform-origin:left center;letter-spacing:0.137px;-webkit-text-stroke:0px">#43</div>
<div class="t" style="left:324.4px;top:350.37px;font-size:7px;color:#3f4550;font-weight:400;transform:scaleX(0.9855);transform-origin:left center;letter-spacing:-0.048px;">Where&#39;s the sports in the book?</div>
<div class="t" style="left:641.2px;top:350.37px;font-size:7px;color:#7c828d;font-weight:400;transform:scaleX(0.9529);transform-origin:left center;letter-spacing:-0.182px;">18 Jan 2021</div>
<div class="t" style="right:147.79999999999995px;top:350.37px;font-size:7px;color:#a2b56a;font-weight:400;transform:scaleX(0.9887);transform-origin:right center;letter-spacing:-0.038px;">Ready for test</div>
<svg class="a" style="left:626px;top:351.59999999999997px" width="6" height="4" viewBox="0 0 6 4" ><path d="M0.8 0.8 L3 3 L5.2 0.8" fill="none" stroke="#4a4f58" stroke-width="1.1"/></svg>
<div class="a" style="left:708.3px;top:346.90px;width:13.4px;height:13.4px;border-radius:50%;background:radial-gradient(ellipse 30% 35% at 52% 48%,#a87a68 0,rgba(160,110,90,0) 100%),radial-gradient(circle at 50% 50%,#6a5048 0,#4a3a34 55%,#3a3434 100%)"></div>
<svg class="a" style="left:725.4px;top:351.59999999999997px" width="6" height="4" viewBox="0 0 6 4" ><path d="M0.8 0.8 L3 3 L5.2 0.8" fill="none" stroke="#3ea3ba" stroke-width="1.2"/></svg>
<div class="a" style="left:176.7px;top:371.35px;width:575px;height:24.4px;background:#f7f8fa;border-radius:1px"></div>
<div class="a" style="left:197.80px;top:379.25px;width:9px;height:9px;border-radius:50%;background:#cfa216"></div>
<div class="a" style="left:238.80px;top:379.25px;width:9px;height:9px;border-radius:50%;background:#5a57d8"></div>
<div class="a" style="left:279.80px;top:379.25px;width:9px;height:9px;border-radius:50%;background:#6f6d8c"></div>
<div class="t" style="left:308.6px;top:381.29px;font-size:6.8px;color:#3f9db3;font-weight:400;transform:scaleX(1.0242);transform-origin:left center;letter-spacing:0.137px;-webkit-text-stroke:0px">#47</div>
<div class="t" style="left:324.4px;top:380.52px;font-size:7px;color:#3f4550;font-weight:400;transform:scaleX(0.9831);transform-origin:left center;letter-spacing:-0.063px;">Unemployed in Greenland</div>
<div class="t" style="left:641.2px;top:380.52px;font-size:7px;color:#7c828d;font-weight:400;transform:scaleX(0.9529);transform-origin:left center;letter-spacing:-0.182px;">18 Jan 2021</div>
<div class="t" style="right:147.79999999999995px;top:380.52px;font-size:7px;color:#cbc07a;font-weight:400;transform:scaleX(0.9698);transform-origin:right center;letter-spacing:-0.132px;">Closed</div>
<svg class="a" style="left:626px;top:381.74999999999994px" width="6" height="4" viewBox="0 0 6 4" ><path d="M0.8 0.8 L3 3 L5.2 0.8" fill="none" stroke="#4a4f58" stroke-width="1.1"/></svg>
<div class="a" style="left:708.3px;top:377.05px;width:13.4px;height:13.4px;border-radius:50%;background:radial-gradient(ellipse 24% 28% at 50% 35%,#d89090 0,rgba(210,130,130,0) 100%),radial-gradient(ellipse 20% 30% at 55% 75%,#c0a0a8 0,rgba(190,160,170,0) 100%),radial-gradient(circle at 50% 50%,#7a3a34 0,#5a2420 55%,#3a1a1a 100%)"></div>
<svg class="a" style="left:725.4px;top:381.74999999999994px" width="6" height="4" viewBox="0 0 6 4" ><path d="M0.8 0.8 L3 3 L5.2 0.8" fill="none" stroke="#3ea3ba" stroke-width="1.2"/></svg>
<div class="a" style="left:176.7px;top:401.50px;width:575px;height:24.4px;background:#f7f8fa;border-radius:1px"></div>
<div class="a" style="left:197.80px;top:409.40px;width:9px;height:9px;border-radius:50%;background:#cfa216"></div>
<div class="a" style="left:238.80px;top:409.40px;width:9px;height:9px;border-radius:50%;background:#d9a94c"></div>
<div class="a" style="left:279.80px;top:409.40px;width:9px;height:9px;border-radius:50%;background:#5d9a3a"></div>
<div class="t" style="left:308.6px;top:411.44px;font-size:6.8px;color:#3f9db3;font-weight:400;transform:scaleX(1.0242);transform-origin:left center;letter-spacing:0.137px;-webkit-text-stroke:0px">#44</div>
<div class="t" style="left:324.4px;top:410.67px;font-size:7px;color:#3f4550;font-weight:400;transform:scaleX(0.9902);transform-origin:left center;letter-spacing:-0.039px;">Not enough money</div>
<div class="t" style="left:641.2px;top:410.67px;font-size:7px;color:#7c828d;font-weight:400;transform:scaleX(0.9529);transform-origin:left center;letter-spacing:-0.182px;">18 Jan 2021</div>
<div class="t" style="right:147.79999999999995px;top:410.67px;font-size:7px;color:#cbc07a;font-weight:400;transform:scaleX(0.9698);transform-origin:right center;letter-spacing:-0.132px;">Closed</div>
<svg class="a" style="left:626px;top:411.9px" width="6" height="4" viewBox="0 0 6 4" ><path d="M0.8 0.8 L3 3 L5.2 0.8" fill="none" stroke="#4a4f58" stroke-width="1.1"/></svg>
<div class="a" style="left:708.3px;top:407.20px;width:13.4px;height:13.4px;border-radius:50%;background:radial-gradient(ellipse 24% 30% at 50% 52%,#a07a6a 0,rgba(160,120,100,0) 100%),radial-gradient(ellipse 26% 26% at 50% 22%,#181214 0,#181214 55%,rgba(24,18,20,0) 100%),linear-gradient(180deg,#b8c2d4 0%,#a2aec2 38%,#3e2c2c 56%,#221818 100%)"></div>
<svg class="a" style="left:725.4px;top:411.9px" width="6" height="4" viewBox="0 0 6 4" ><path d="M0.8 0.8 L3 3 L5.2 0.8" fill="none" stroke="#3ea3ba" stroke-width="1.2"/></svg>
<div class="a" style="left:176.7px;top:431.65px;width:575px;height:24.4px;background:#f7f8fa;border-radius:1px"></div>
<div class="a" style="left:197.80px;top:439.55px;width:9px;height:9px;border-radius:50%;background:#cfa216"></div>
<div class="a" style="left:238.80px;top:439.55px;width:9px;height:9px;border-radius:50%;background:#d9a94c"></div>
<div class="a" style="left:279.80px;top:439.55px;width:9px;height:9px;border-radius:50%;background:#e0445a"></div>
<div class="t" style="left:308.6px;top:441.59px;font-size:6.8px;color:#3f9db3;font-weight:400;transform:scaleX(1.0242);transform-origin:left center;letter-spacing:0.137px;-webkit-text-stroke:0px">#10</div>
<div class="t" style="left:324.4px;top:440.82px;font-size:7px;color:#3f4550;font-weight:400;transform:scaleX(0.9954);transform-origin:left center;letter-spacing:-0.016px;">Dropping the sword when left-handed</div>
<div class="t" style="left:641.2px;top:440.82px;font-size:7px;color:#7c828d;font-weight:400;transform:scaleX(0.9529);transform-origin:left center;letter-spacing:-0.182px;">18 Jan 2021</div>
<div class="t" style="right:147.79999999999995px;top:440.82px;font-size:7px;color:#cbc07a;font-weight:400;transform:scaleX(0.9698);transform-origin:right center;letter-spacing:-0.132px;">Closed</div>
<svg class="a" style="left:626px;top:442.04999999999995px" width="6" height="4" viewBox="0 0 6 4" ><path d="M0.8 0.8 L3 3 L5.2 0.8" fill="none" stroke="#4a4f58" stroke-width="1.1"/></svg>
<div class="a" style="left:708px;top:437.05px;width:14px;height:14px;border-radius:50%;border:1px solid #dcdcdc;background:radial-gradient(circle,#f8f8f8 0,#ededed 100%)"></div>
<svg class="a" style="left:725.4px;top:442.04999999999995px" width="6" height="4" viewBox="0 0 6 4" ><path d="M0.8 0.8 L3 3 L5.2 0.8" fill="none" stroke="#3ea3ba" stroke-width="1.2"/></svg>
<div class="a" style="left:176.7px;top:461.80px;width:575px;height:24.4px;background:#f7f8fa;border-radius:1px"></div>
<div class="a" style="left:197.80px;top:469.70px;width:9px;height:9px;border-radius:50%;background:#2d62a6"></div>
<div class="a" style="left:238.80px;top:469.70px;width:9px;height:9px;border-radius:50%;background:#e0445a"></div>
<div class="a" style="left:279.80px;top:469.70px;width:9px;height:9px;border-radius:50%;background:#e0445a"></div>
<div class="t" style="left:308.6px;top:471.74px;font-size:6.8px;color:#3f9db3;font-weight:400;transform:scaleX(1.0242);transform-origin:left center;letter-spacing:0.137px;-webkit-text-stroke:0px">#45</div>
<div class="t" style="left:324.4px;top:470.97px;font-size:7px;color:#3f4550;font-weight:400;transform:scaleX(0.9849);transform-origin:left center;letter-spacing:-0.051px;">Princess Buttercup does not love Prince Humperdinck</div>
<div class="t" style="left:641.2px;top:470.97px;font-size:7px;color:#7c828d;font-weight:400;transform:scaleX(0.9529);transform-origin:left center;letter-spacing:-0.182px;">18 Jan 2021</div>
<div class="t" style="right:147.79999999999995px;top:470.97px;font-size:7px;color:#94cdc0;font-weight:400;transform:scaleX(0.9917);transform-origin:right center;letter-spacing:-0.031px;">Needs Info</div>
<svg class="a" style="left:626px;top:472.19999999999993px" width="6" height="4" viewBox="0 0 6 4" ><path d="M0.8 0.8 L3 3 L5.2 0.8" fill="none" stroke="#4a4f58" stroke-width="1.1"/></svg>
<div class="a" style="left:708.3px;top:467.50px;width:13.4px;height:13.4px;border-radius:50%;background:radial-gradient(ellipse 30% 35% at 52% 48%,#a87a68 0,rgba(160,110,90,0) 100%),radial-gradient(circle at 50% 50%,#6a5048 0,#4a3a34 55%,#3a3434 100%)"></div>
<svg class="a" style="left:725.4px;top:472.19999999999993px" width="6" height="4" viewBox="0 0 6 4" ><path d="M0.8 0.8 L3 3 L5.2 0.8" fill="none" stroke="#3ea3ba" stroke-width="1.2"/></svg>
<div class="a" style="left:176.7px;top:491.95px;width:575px;height:24.4px;background:#f7f8fa;border-radius:1px"></div>
<div class="a" style="left:197.80px;top:499.85px;width:9px;height:9px;border-radius:50%;background:#cfa216"></div>
<div class="a" style="left:238.80px;top:499.85px;width:9px;height:9px;border-radius:50%;background:#e0445a"></div>
<div class="a" style="left:279.80px;top:499.85px;width:9px;height:9px;border-radius:50%;background:#e0445a"></div>
<div class="t" style="left:308.6px;top:501.89px;font-size:6.8px;color:#3f9db3;font-weight:400;transform:scaleX(1.0602);transform-origin:left center;letter-spacing:0.455px;-webkit-text-stroke:0px">#9</div>
<div class="t" style="left:321px;top:501.12px;font-size:7px;color:#3f4550;font-weight:400;transform:scaleX(0.9740);transform-origin:left center;letter-spacing:-0.088px;">Excessive exposure to Iocaine</div>
<div class="t" style="left:641.2px;top:501.12px;font-size:7px;color:#7c828d;font-weight:400;transform:scaleX(0.9579);transform-origin:left center;letter-spacing:-0.160px;">10 Oct 2019</div>
<div class="t" style="right:147.79999999999995px;top:501.12px;font-size:7px;color:#5a606b;font-weight:400;transform:scaleX(0.9972);transform-origin:right center;letter-spacing:-0.012px;">Postponed</div>
<svg class="a" style="left:626px;top:502.34999999999997px" width="6" height="4" viewBox="0 0 6 4" ><path d="M0.8 0.8 L3 3 L5.2 0.8" fill="none" stroke="#4a4f58" stroke-width="1.1"/></svg>
<div class="a" style="left:708.3px;top:497.65px;width:13.4px;height:13.4px;border-radius:50%;background:radial-gradient(ellipse 24% 30% at 50% 52%,#a07a6a 0,rgba(160,120,100,0) 100%),radial-gradient(ellipse 26% 26% at 50% 22%,#181214 0,#181214 55%,rgba(24,18,20,0) 100%),linear-gradient(180deg,#b8c2d4 0%,#a2aec2 38%,#3e2c2c 56%,#221818 100%)"></div>
<svg class="a" style="left:725.4px;top:502.34999999999997px" width="6" height="4" viewBox="0 0 6 4" ><path d="M0.8 0.8 L3 3 L5.2 0.8" fill="none" stroke="#3ea3ba" stroke-width="1.2"/></svg>
<div class="a" style="left:361.9px;top:108.00px;width:43.2px;height:8.6px;background:#d9ac4d;border-radius:1.5px;color:rgba(255,255,255,.8);font-size:5.6px;line-height:10px;text-align:center;white-space:nowrap;overflow:hidden;letter-spacing:-0.1px">universal truth</div>
<div class="a" style="left:419.9px;top:138.15px;width:43.1px;height:8.6px;background:#d9ac4d;border-radius:1.5px;color:rgba(255,255,255,.8);font-size:5.6px;line-height:10px;text-align:center;white-space:nowrap;overflow:hidden;letter-spacing:-0.1px">universal truth</div>
<div class="a" style="left:430.8px;top:168.30px;width:18.2px;height:8.6px;background:#e2414f;border-radius:1.5px;color:rgba(255,255,255,.8);font-size:5.6px;line-height:10px;text-align:center;white-space:nowrap;overflow:hidden;letter-spacing:-0.1px">peril</div>
<div class="a" style="left:374.8px;top:198.45px;width:18.2px;height:8.6px;background:#e2414f;border-radius:1.5px;color:rgba(255,255,255,.8);font-size:5.6px;line-height:10px;text-align:center;white-space:nowrap;overflow:hidden;letter-spacing:-0.1px">peril</div>
<div class="a" style="left:369px;top:228.60px;width:18.0px;height:8.6px;background:#e2414f;border-radius:1.5px;color:rgba(255,255,255,.8);font-size:5.6px;line-height:10px;text-align:center;white-space:nowrap;overflow:hidden;letter-spacing:-0.1px">peril</div>
<div class="a" style="left:393.5px;top:288.90px;width:33.4px;height:8.6px;background:#ab4fd8;border-radius:1.5px;color:rgba(255,255,255,.8);font-size:5.6px;line-height:10px;text-align:center;white-space:nowrap;overflow:hidden;letter-spacing:-0.1px">annoyance</div>
<div class="a" style="left:425.7px;top:349.20px;width:33.2px;height:8.6px;background:#ab4fd8;border-radius:1.5px;color:rgba(255,255,255,.8);font-size:5.6px;line-height:10px;text-align:center;white-space:nowrap;overflow:hidden;letter-spacing:-0.1px">annoyance</div>
<div class="a" style="left:408.2px;top:379.35px;width:31.3px;height:8.6px;background:#da7f4e;border-radius:1.5px;color:rgba(255,255,255,.8);font-size:5.6px;line-height:10px;text-align:center;white-space:nowrap;overflow:hidden;letter-spacing:-0.1px">challenge</div>
<div class="a" style="left:388.3px;top:409.50px;width:33.2px;height:8.6px;background:#ab4fd8;border-radius:1.5px;color:rgba(255,255,255,.8);font-size:5.6px;line-height:10px;text-align:center;white-space:nowrap;overflow:hidden;letter-spacing:-0.1px">annoyance</div>
<div class="a" style="left:458.8px;top:439.65px;width:31.1px;height:8.6px;background:#da7f4e;border-radius:1.5px;color:rgba(255,255,255,.8);font-size:5.6px;line-height:10px;text-align:center;white-space:nowrap;overflow:hidden;letter-spacing:-0.1px">challenge</div>
<div class="a" style="left:491.9px;top:439.65px;width:60.8px;height:8.6px;background:#d9ac4d;border-radius:1.5px;color:rgba(255,255,255,.8);font-size:5.6px;line-height:10px;text-align:center;white-space:nowrap;overflow:hidden;letter-spacing:-0.1px">fight like a dairy farmer</div>
<svg class="a" style="left:445px;top:438.54999999999995px" width="8" height="8" viewBox="0 0 8 8" ><circle cx="4" cy="4" r="3.4" fill="none" stroke="#e59a9a" stroke-width="0.85"/><path d="M4 2 V4.2 L5.6 3" fill="none" stroke="#e59a9a" stroke-width="0.75"/></svg>
<div class="a" style="left:492.6px;top:469.80px;width:17.5px;height:8.6px;background:#e2414f;border-radius:1.5px;color:rgba(255,255,255,.8);font-size:5.6px;line-height:10px;text-align:center;white-space:nowrap;overflow:hidden;letter-spacing:-0.1px">love</div>
<div class="a" style="left:415.9px;top:499.95px;width:25.3px;height:8.6px;background:#da7f4e;border-radius:1.5px;color:rgba(255,255,255,.8);font-size:5.6px;line-height:10px;text-align:center;white-space:nowrap;overflow:hidden;letter-spacing:-0.1px">iocaine</div>
</div></body></html>
